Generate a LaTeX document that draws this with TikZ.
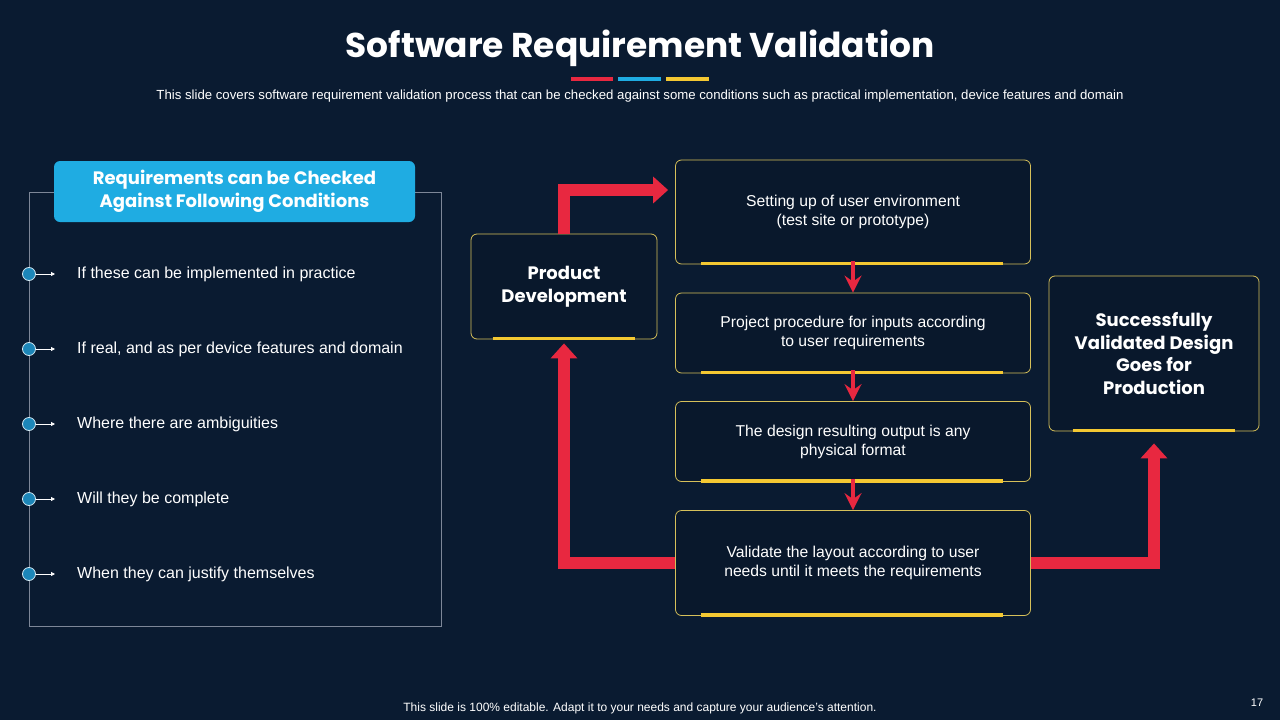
\documentclass[tikz,border=0pt]{standalone}
\usepackage{fontspec}
\setmainfont{Liberation Sans}
\newfontfamily\headfont{Poppins}
\usetikzlibrary{arrows.meta,calc}
\definecolor{bgc}{RGB}{10,27,49}
\definecolor{boxfill}{RGB}{9,24,44}
\definecolor{gold}{RGB}{244,200,50}
\definecolor{goldline}{RGB}{214,192,90}
\definecolor{redc}{RGB}{232,40,64}
\definecolor{bluec}{RGB}{31,172,226}
\definecolor{dotc}{RGB}{28,134,184}
\definecolor{panelc}{RGB}{125,135,152}
\begin{document}
\begin{tikzpicture}[x=1pt,y=-1pt,
  every node/.style={inner sep=0pt, text=white},
  stepbox/.style={draw=goldline, line width=0.8pt, rounded corners=6pt, fill=boxfill, minimum width=355pt, align=center, font=\fontsize{15.7}{19}\selectfont},
  headbox/.style={draw=goldline, line width=0.8pt, rounded corners=6pt, fill=boxfill, align=center, font=\headfont\bfseries\fontsize{18}{22.5}\selectfont},
  bar/.style={draw=gold, line width=3.5pt},
  bigarrow/.style={draw=redc, line width=12.5pt, -{Triangle[width=26pt,length=15pt]}},
  smallarrow/.style={draw=redc, line width=3.5pt, -{Stealth[width=17pt,length=17pt,inset=6pt]}},
  bulletdot/.style={circle, fill=dotc, draw=white!80!dotc, line width=0.8pt, minimum size=13pt},
  itemtext/.style={anchor=west, font=\fontsize{16}{19}\selectfont},
  tinyarrow/.style={draw=white, line width=0.8pt, -{Triangle[length=4pt,width=4pt]}},
  cbar/.style={line width=4pt}
]
\useasboundingbox (0,0) rectangle (1280,720);
\fill[bgc] (0,0) rectangle (1280,720);

% title
\node[font=\headfont\bfseries\fontsize{34.4}{38}\selectfont] (title) at (640,48) {Software Requirement Validation};
\draw[cbar, redc] (571,79) -- (613,79);
\draw[cbar, bluec] (618,79) -- (661,79);
\draw[cbar, gold] (666,79) -- (709,79);
\node[font=\fontsize{13.2}{15}\selectfont] (sub) at (640,96) {This slide covers software requirement validation process that can be checked against some conditions such as practical implementation, device features and domain};

% left panel
\node[draw=panelc, line width=0.8pt, minimum width=412pt, minimum height=434pt] (panel) at (235,409) {};
\node[fill=bluec, rounded corners=6pt, minimum width=361pt, minimum height=61pt, align=center, font=\headfont\bfseries\fontsize{18}{23}\selectfont] (hdr) at (234.5,191.5) {Requirements can be Checked\\Against Following Conditions};

\foreach \i/\yy/\txt in {1/274/If these can be implemented in practice,
                          2/349/{If real, and as per device features and domain},
                          3/424/Where there are ambiguities,
                          4/499/Will they be complete,
                          5/574/When they can justify themselves}{
  \node[bulletdot] (b\i) at (29,\yy) {};
  \coordinate (e\i) at (55,\yy);
  \draw[tinyarrow] (b\i) -- (e\i);
  \node[itemtext] (t\i) at (77,\yy) {\txt};
}

% process boxes
\node[headbox, minimum width=186pt, minimum height=105pt] (pd) at (564,286.5) {Product\\Development};
\node[stepbox, minimum height=104pt] (s1) at (853,212) {Setting up of user environment\\(test site or prototype)};
\node[stepbox, minimum height=80pt] (s2) at (853,333) {Project procedure for inputs according\\to user requirements};
\node[stepbox, minimum height=80pt] (s3) at (853,441.5) {The design resulting output is any\\physical format};
\node[stepbox, minimum height=105pt] (s4) at (853,563) {Validate the layout according to user\\needs until it meets the requirements};
\node[headbox, minimum width=210pt, minimum height=155pt] (fin) at (1154,353.5) {Successfully\\Validated Design\\Goes for\\Production};

% yellow bars
\foreach \n in {s1,s2,s3,s4}{
  \draw[bar] ([xshift=26pt,yshift=1pt]\n.south west) -- ([xshift=-28pt,yshift=1pt]\n.south east);
}
\draw[bar] ([xshift=22pt,yshift=1pt]pd.south west) -- ([xshift=-22pt,yshift=1pt]pd.south east);
\draw[bar] ([xshift=24pt,yshift=1pt]fin.south west) -- ([xshift=-24pt,yshift=1pt]fin.south east);

% arrows
\draw[bigarrow] (pd.north) |- ($(s1.west)+(-7,-22)$);
\draw[bigarrow, shorten >=4pt] (s4.west) -| (pd.south);
\draw[bigarrow, shorten >=12pt] (s4.east) -| (fin.south);
\draw[smallarrow] ([yshift=3pt]s1.south) -- (s2.north);
\draw[smallarrow] ([yshift=3pt]s2.south) -- (s3.north);
\draw[smallarrow] ([yshift=3pt]s3.south) -- (s4.north);

% footer
\node[font=\fontsize{12}{14}\selectfont] (foot) at (640,708) {This slide is 100\% editable. Adapt it to your needs and capture your audience's attention.};
\node[font=\fontsize{11}{13}\selectfont] (pg) at (1257,703) {17};
\end{tikzpicture}
\end{document}
